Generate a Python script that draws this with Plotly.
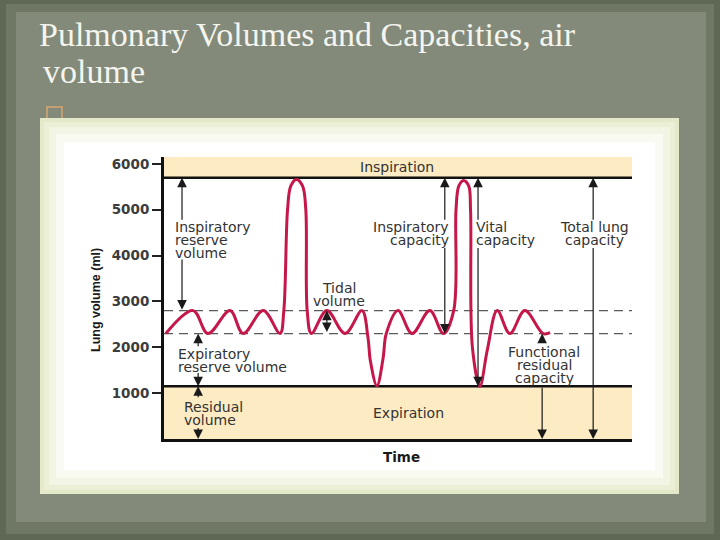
import plotly.graph_objects as go

# spirogram trace (time in arbitrary units 0-100, volume in ml)
time = [0.4, 6.2, 9.4, 14.1, 16.9, 21.2,
        24.8, 25.6, 26.4, 27.1, 28.3, 29.6, 30.3, 30.6, 31.5,
        34.8, 38.7, 42.3, 43.6, 44.1, 45.5, 46.8, 47.5, 50.0, 53.0, 56.8,
        59.7, 61.9, 62.4, 63.0, 64.0, 65.1, 65.5, 65.9, 67.5, 69.1,
        71.2, 73.9, 77.1, 81.0, 82.5]
volume = [2300, 2800, 2300, 2800, 2300, 2800,
          2300, 2800, 5000, 5520, 5660, 5520, 5000, 2800, 2300,
          2800, 2300, 2800, 2200, 1700, 1160, 1750, 2300, 2800, 2300, 2800,
          2300, 2800, 5000, 5520, 5640, 5520, 5000, 2000, 1150, 1950,
          2800, 2300, 2800, 2300, 2320]

# levels (ml)
top_level = 6150
insp_line = 5700
tidal_top = 2800
frc_level = 2300
rv_line = 1150
tick_vals = [1000, 2000, 3000, 4000, 5000, 6000]

# arrows: x position, tail, head, double headed
arrows = [
    (3.85, 4750, 5700, False), (3.85, 3950, 2820, False),   # inspiratory reserve volume
    (7.3, 1990, 2300, False), (7.3, 1470, 1150, False),     # expiratory reserve volume
    (7.3, 880, 1150, False), (7.3, 270, 0, False),          # residual volume
    (34.8, 2300, 2800, True),                               # tidal volume
    (60.0, 4750, 5700, False), (60.0, 4200, 2300, False),   # inspiratory capacity
    (67.1, 4750, 5700, False), (67.1, 4200, 1150, False),   # vital capacity
    (91.7, 4750, 5700, False), (91.7, 4200, 0, False),      # total lung capacity
    (80.8, 2080, 2300, False), (80.8, 1150, 0, False),      # functional residual capacity
]


def px(x):
    return x / 720


def py(y):
    return 1 - y / 540


fig = go.Figure()

fig.add_trace(go.Scatter(x=time, y=volume, mode='lines', line_shape='spline',
                         line=dict(color='#c5174a', width=3), showlegend=False, hoverinfo='skip'))

shapes = []
# slide background
shapes.append(dict(type='rect', xref='paper', yref='paper', x0=px(6), x1=px(714), y0=py(534), y1=py(4),
                   fillcolor='#6f7765', line_width=0, layer='below'))
shapes.append(dict(type='rect', xref='paper', yref='paper', x0=px(16), x1=px(706), y0=py(522), y1=py(12),
                   fillcolor='#838a7a', line_width=0, layer='below'))
# missing glyph box
shapes.append(dict(type='rect', xref='paper', yref='paper', x0=px(47), x1=px(62), y0=py(124), y1=py(107),
                   line=dict(color='#d9a66c', width=1.5), layer='below'))
# picture panel with soft edge
for inset, col in [(0, '#e4e9c9'), (4, '#ebefd6'), (9, '#f2f5e4'), (16, '#f9faf1'), (24, '#ffffff')]:
    shapes.append(dict(type='rect', xref='paper', yref='paper', x0=px(40 + inset), x1=px(679 - inset),
                       y0=py(494 - inset), y1=py(118 + inset), fillcolor=col, line_width=0, layer='below'))
# inspiration / expiration bands
shapes.append(dict(type='rect', xref='x', yref='y', x0=0, x1=100, y0=insp_line, y1=top_level,
                   fillcolor='#fcebc3', line_width=0, layer='below'))
shapes.append(dict(type='rect', xref='x', yref='y', x0=0, x1=100, y0=0, y1=rv_line,
                   fillcolor='#fcebc3', line_width=0, layer='below'))
for lvl in [tidal_top, frc_level]:
    shapes.append(dict(type='line', xref='x', yref='y', x0=0, x1=100, y0=lvl, y1=lvl,
                       line=dict(color='#5a5a5a', width=1.2, dash='9px,6px'), layer='below'))
for lvl in [insp_line, rv_line]:
    shapes.append(dict(type='line', xref='x', yref='y', x0=0, x1=100, y0=lvl, y1=lvl,
                       line=dict(color='#111111', width=2.5), layer='below'))

annotations = []
for x, tail, head, both in arrows:
    annotations.append(dict(x=x, y=head, ax=x, ay=tail, xref='x', yref='y', axref='x', ayref='y',
                            text='', showarrow=True, arrowhead=2, arrowsize=1.6, arrowwidth=1.2,
                            arrowcolor='#1a1a1a', arrowside='end+start' if both else 'end',
                            startarrowhead=2, startarrowsize=1.6))

label_font = dict(family='DejaVu Sans', size=14, color='#333333')


def add_label(lines, x, y0, anchor, dy=13, font=label_font):
    # one annotation per line, to keep the picture's tight line spacing
    for i, line in enumerate(lines):
        annotations.append(dict(x=px(x), y=py(y0 + i * dy), xref='paper', yref='paper', text=line,
                                showarrow=False, xanchor=anchor, yanchor='middle', font=font))


add_label(['Inspiration'], 397, 167, 'center')
add_label(['Expiration'], 408, 413, 'center')
add_label(['Inspiratory', 'reserve', 'volume'], 173, 227, 'left')
add_label(['Expiratory', 'reserve volume'], 176, 354, 'left')
add_label(['Residual', 'volume'], 182, 406.5, 'left')
add_label(['Tidal', 'volume'], 339, 288, 'center')
add_label(['Inspiratory', 'capacity'], 451, 227, 'right')
add_label(['Vital', 'capacity'], 474, 227, 'left')
add_label(['Total lung', 'capacity'], 594, 227, 'center')
add_label(['Functional', 'residual', 'capacity'], 544, 352, 'center')
add_label(['Time'], 401, 457, 'center', font=dict(family='DejaVu Sans', size=13.5, color='#1a1a1a', weight='bold'))
annotations.append(dict(x=px(96), y=py(300), xref='paper', yref='paper', text='Lung volume (ml)',
                        textangle=-90, showarrow=False, xanchor='center', yanchor='middle',
                        font=dict(family='Liberation Sans', size=12.5, color='#1a1a1a', weight='bold')))

# slide title
title_font = dict(family='Liberation Serif', size=34, color='#f5f5ef')
annotations.append(dict(x=px(37), y=py(34), xref='paper', yref='paper', showarrow=False,
                        text='Pulmonary Volumes and Capacities, air', xanchor='left', yanchor='middle',
                        font=title_font))
annotations.append(dict(x=px(41), y=py(72), xref='paper', yref='paper', showarrow=False,
                        text='volume', xanchor='left', yanchor='middle', font=title_font))

fig.update_layout(
    width=720, height=540, autosize=False,
    margin=dict(l=0, r=0, t=0, b=0),
    paper_bgcolor='#5f6854', plot_bgcolor='rgba(0,0,0,0)',
    shapes=shapes, annotations=annotations, showlegend=False,
    xaxis=dict(domain=[px(164), px(632)], range=[0, 100], showgrid=False, zeroline=False,
               showticklabels=False, ticks='', showline=True, linecolor='#111111', linewidth=2.5,
               fixedrange=True),
    yaxis=dict(domain=[py(439), py(157)], range=[0, top_level], showgrid=False, zeroline=False,
               tickvals=tick_vals, ticks='outside', ticklen=9, tickwidth=2, tickcolor='#222222',
               showline=True, linecolor='#111111', linewidth=3,
               tickfont=dict(family='DejaVu Sans', size=13.5, color='#3c3c3c', weight='bold'),
               fixedrange=True),
)

# page body has a default margin that would shift the whole slide
fig.write_html("out.html", config={'displayModeBar': False},
               post_script="document.body.style.margin='0px';")
